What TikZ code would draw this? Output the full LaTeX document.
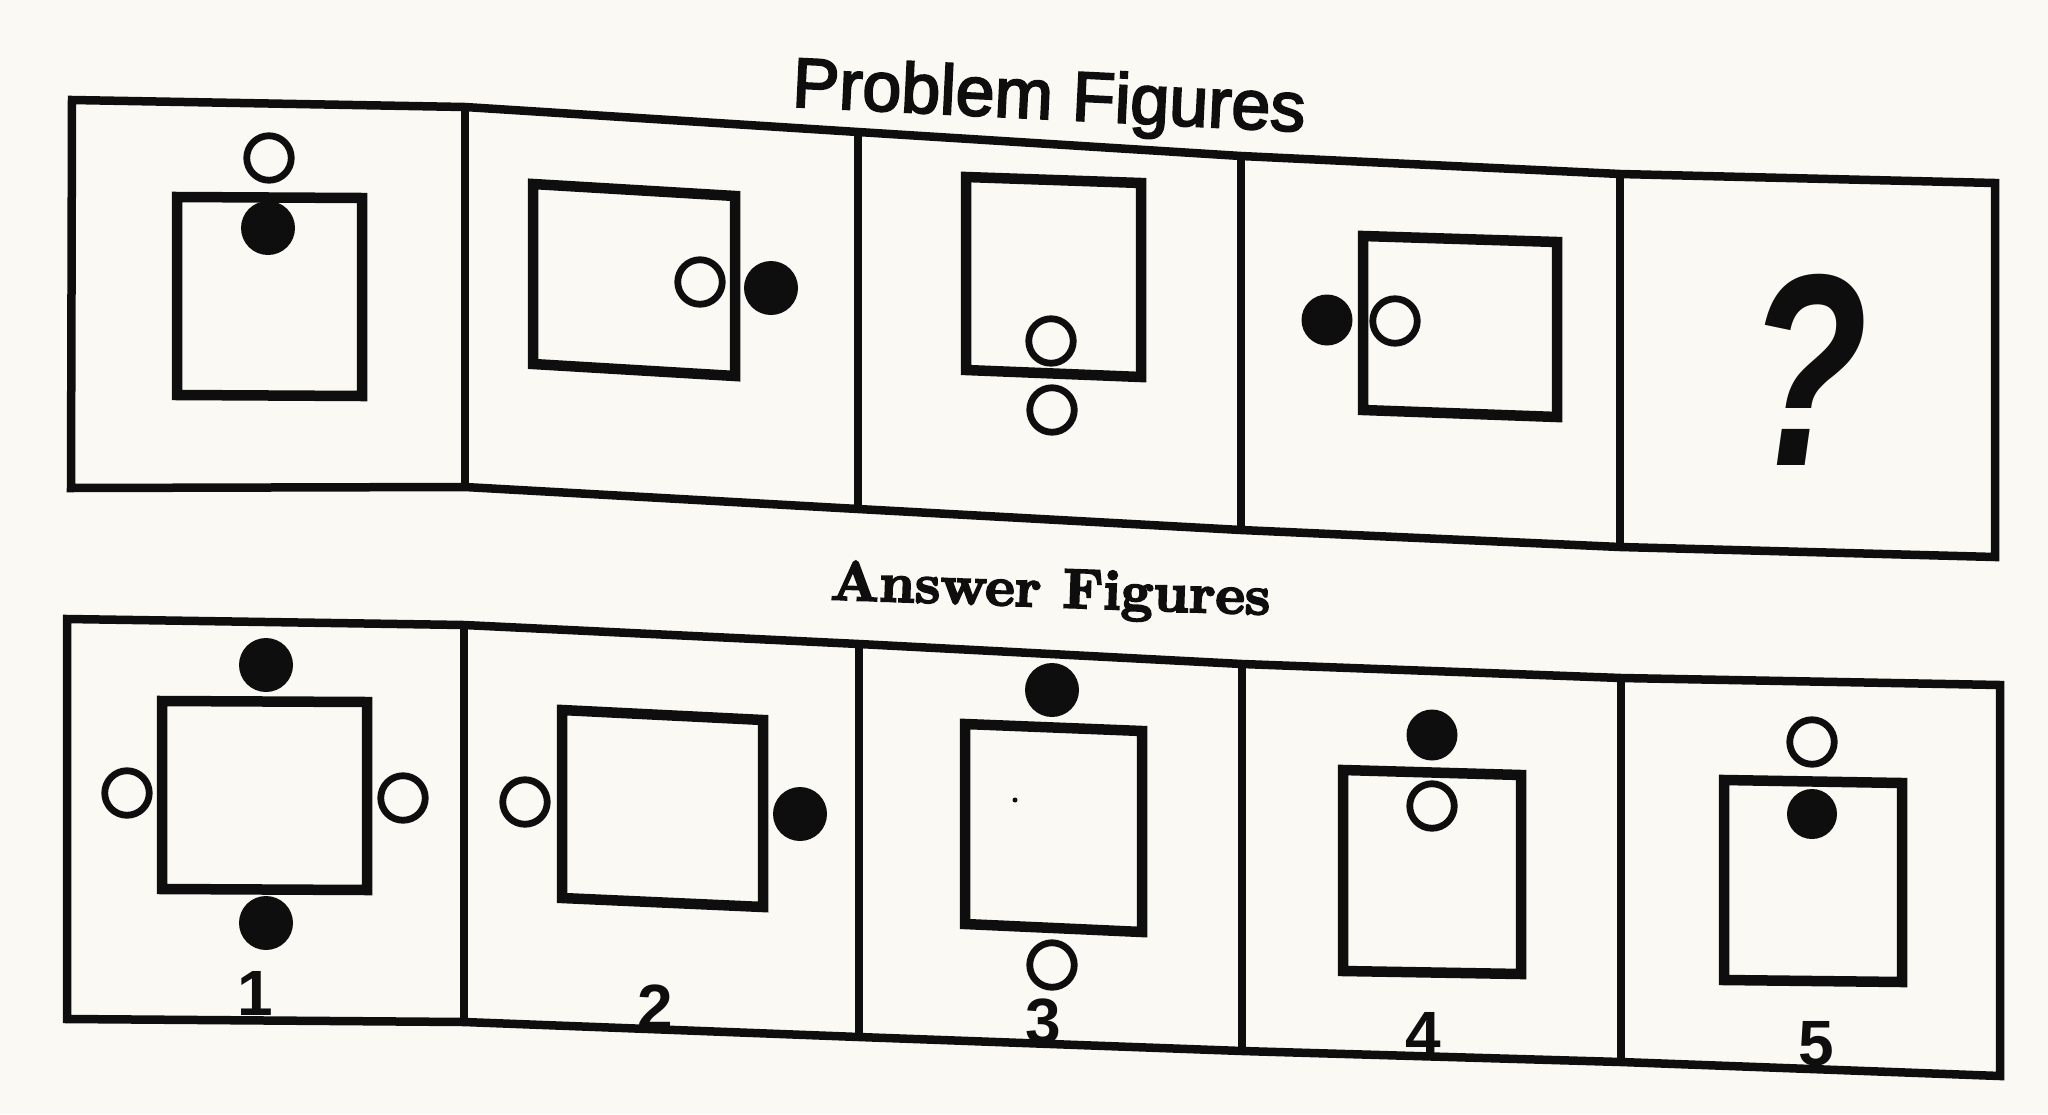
\documentclass[tikz,border=0pt]{standalone}
\usepackage{fontspec}
\newfontfamily\arialf{Liberation Sans}
\newfontfamily\arialmed{Liberation Sans}[FakeBold=3]
\newfontfamily\ansfont{lmroman10-bold.otf}[FakeBold=3.5]
\definecolor{paper}{RGB}{251,249,243}
\definecolor{ink}{RGB}{14,14,14}
\begin{document}
\begin{tikzpicture}[x=1pt,y=-1pt,
  frame/.style={draw=ink,line width=8.5pt,line join=miter},
  divider/.style={draw=ink,line width=8pt},
  sq/.style={draw=ink,line width=10.5pt,line join=miter},
  hollowdot/.style={circle,draw=ink,line width=6.8pt,minimum size=44.5pt,inner sep=0pt},
  soliddot/.style={circle,fill=ink,minimum size=54pt,inner sep=0pt},
  speck/.style={circle,fill=ink,minimum size=5pt,inner sep=0pt},
  digit/.style={font=\arialf\bfseries\fontsize{64}{70}\selectfont,anchor=base,inner sep=0pt,text=ink},
  qmark/.style={font=\arialf\bfseries\itshape\fontsize{274}{274}\selectfont,anchor=base,inner sep=0pt,text=ink,xscale=0.72}]
\useasboundingbox (0,0) rectangle (2048,1114);
\fill[paper] (0,0) rectangle (2048,1114);

% ---------- titles ----------
\node[font=\arialmed\fontsize{70}{84}\selectfont,anchor=base,rotate=-2.8,inner sep=0pt,text=ink] (ptitle) at (1048,119) {Problem Figures};
\node[font=\ansfont\fontsize{56}{66}\selectfont,anchor=base,rotate=-2,inner sep=0pt,text=ink] (atitle) at (1050,607) {Answer Figures};

% ---------- problem frame ----------
\coordinate (t0) at (72,100);   \coordinate (b0) at (71,488);
\coordinate (t1) at (465,107);  \coordinate (b1) at (465,487);
\coordinate (t2) at (858,132);  \coordinate (b2) at (858,509);
\coordinate (t3) at (1241,156); \coordinate (b3) at (1241,530);
\coordinate (t4) at (1620,174); \coordinate (b4) at (1620,547);
\coordinate (t5) at (1995,183); \coordinate (b5) at (1995,557);
\draw[frame] (t0) -- (t1) -- (t2) -- (t3) -- (t4) -- (t5) -- (b5) -- (b4) -- (b3) -- (b2) -- (b1) -- (b0) -- cycle;
\foreach \i in {1,2,3,4} \draw[divider] (t\i) -- (b\i);

% ---------- answer frame ----------
\coordinate (u0) at (67,619);   \coordinate (v0) at (67,1019);
\coordinate (u1) at (464,625);  \coordinate (v1) at (464,1022);
\coordinate (u2) at (859,644);  \coordinate (v2) at (859,1037);
\coordinate (u3) at (1242,664); \coordinate (v3) at (1242,1051);
\coordinate (u4) at (1621,678); \coordinate (v4) at (1621,1062);
\coordinate (u5) at (2000,685); \coordinate (v5) at (2000,1076);
\draw[frame] (u0) -- (u1) -- (u2) -- (u3) -- (u4) -- (u5) -- (v5) -- (v4) -- (v3) -- (v2) -- (v1) -- (v0) -- cycle;
\foreach \i in {1,2,3,4} \draw[divider] (u\i) -- (v\i);

% ---------- problem figures ----------
% 1
\draw[sq] (177,197) -- (362,198) -- (362,396) -- (177,395) -- cycle;
\node[hollowdot] (p1o) at (269,158) {};
\node[soliddot] (p1f) at (268,228) {};
% 2
\draw[sq] (533,184) -- (735,196) -- (735,376) -- (533,364) -- cycle;
\node[hollowdot] (p2o) at (700,282) {};
\node[soliddot] (p2f) at (771,288) {};
% 3
\draw[sq] (966,177) -- (1141,183) -- (1141,377) -- (966,370) -- cycle;
\node[hollowdot] (p3a) at (1051,341) {};
\node[hollowdot] (p3b) at (1052,410) {};
% 4
\draw[sq] (1363,236) -- (1557,242) -- (1557,417) -- (1363,410) -- cycle;
\node[soliddot,minimum size=51pt] (p4f) at (1327,320) {};
\node[hollowdot] (p4o) at (1395,321) {};
% 5
\node[qmark] (q) at (1808,465) {?};

% ---------- answer figures ----------
% 1
\draw[sq] (162,701) -- (367,702) -- (367,890) -- (162,889) -- cycle;
\node[soliddot] (a1t) at (266,665) {};
\node[soliddot] (a1b) at (266,923) {};
\node[hollowdot] (a1l) at (127,793) {};
\node[hollowdot] (a1r) at (403,798) {};
\node[digit] (n1) at (255,1015) {1};
% 2
\draw[sq] (562,710) -- (763,720) -- (763,907) -- (562,898) -- cycle;
\node[hollowdot] (a2o) at (525,802) {};
\node[soliddot] (a2f) at (800,814) {};
\node[digit] (n2) at (655,1029) {2};
% 3
\draw[sq] (965,724) -- (1142,731) -- (1142,932) -- (965,924) -- cycle;
\node[soliddot] (a3f) at (1052,690) {};
\node[hollowdot] (a3o) at (1052,965) {};
\node[speck] (a3s) at (1015,800) {};
\node[digit] (n3) at (1043,1043) {3};
% 4
\draw[sq] (1343,770) -- (1521,775) -- (1521,974) -- (1343,971) -- cycle;
\node[soliddot,minimum size=51pt] (a4f) at (1432,735) {};
\node[hollowdot] (a4o) at (1432,806) {};
\node[digit] (n4) at (1423,1056) {4};
% 5
\draw[sq] (1724,780) -- (1902,783) -- (1902,982) -- (1724,980) -- cycle;
\node[hollowdot] (a5o) at (1812,742) {};
\node[soliddot,minimum size=50pt] (a5f) at (1812,814) {};
\node[digit] (n5) at (1816,1065) {5};
\end{tikzpicture}
\end{document}
